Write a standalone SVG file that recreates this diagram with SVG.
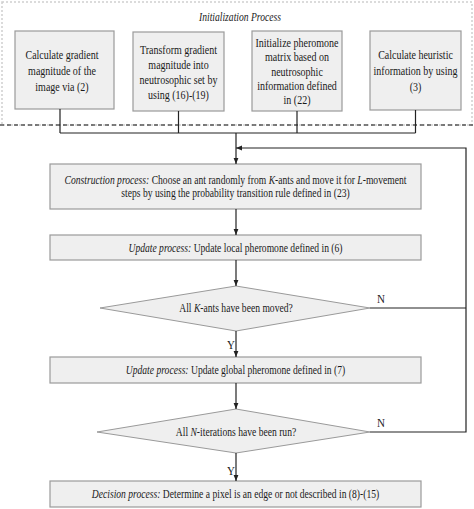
<svg xmlns="http://www.w3.org/2000/svg" width="474" height="509" viewBox="0 0 474 509" font-family="'Liberation Serif', 'DejaVu Serif', serif">
<style>
text{font-family:'Liberation Serif','DejaVu Serif',serif;font-size:13px;fill:#1a1a1a;text-anchor:middle}
.m{font-size:12px}
.it{font-style:italic}
.box{fill:#efefef;stroke:#9a9a9a;stroke-width:1.2}
.dia{fill:#efefef;stroke:#9a9a9a;stroke-width:1}
.ln{fill:none;stroke:#222;stroke-width:1.2}
.lbl{text-anchor:start}
</style>
<defs>
<marker id="ah" viewBox="0 0 10 10" refX="10" refY="5" markerWidth="5" markerHeight="5" orient="auto">
<path d="M0,1 L10,5 L0,9 z" fill="#222"/>
</marker>
</defs>
<rect x="2" y="2" width="470" height="123" fill="none" stroke="#cfcfcf" stroke-width="1.5" stroke-dasharray="2,2"/>
<line x1="0" y1="125" x2="474" y2="125" stroke="#555" stroke-width="1.5" stroke-dasharray="4,3"/>
<text class="it m" transform="translate(240,21) scale(0.8,1)">Initialization Process</text>

<g id="init1">
<rect class="box" x="15" y="31" width="99" height="78"/>
<g transform="translate(62,0)">
<text transform="translate(0,59) scale(0.77,1)">Calculate gradient</text>
<text transform="translate(0,75) scale(0.77,1)">magnitude of the</text>
<text transform="translate(0,91) scale(0.77,1)">image via (2)</text>
</g>
</g>
<g id="init2">
<rect class="box" x="133" y="32" width="91" height="79"/>
<g transform="translate(178.5,0)">
<text transform="translate(0,54) scale(0.77,1)">Transform gradient</text>
<text transform="translate(0,69) scale(0.77,1)">magnitude into</text>
<text transform="translate(0,84) scale(0.77,1)">neutrosophic set by</text>
<text transform="translate(0,99) scale(0.77,1)">using (16)-(19)</text>
</g>
</g>
<g id="init3">
<rect class="box" x="252" y="31" width="90" height="80"/>
<g transform="translate(297,0)">
<text transform="translate(0,47) scale(0.77,1)">Initialize pheromone</text>
<text transform="translate(0,61) scale(0.77,1)">matrix based on</text>
<text transform="translate(0,76) scale(0.77,1)">neutrosophic</text>
<text transform="translate(0,90) scale(0.77,1)">information defined</text>
<text transform="translate(0,104) scale(0.77,1)">in (22)</text>
</g>
</g>
<g id="init4">
<rect class="box" x="370" y="31" width="91" height="79"/>
<g transform="translate(415.5,0)">
<text transform="translate(0,59) scale(0.77,1)">Calculate heuristic</text>
<text transform="translate(0,75) scale(0.77,1)">information by using</text>
<text transform="translate(0,91) scale(0.77,1)">(3)</text>
</g>
</g>

<g id="construction">
<rect class="box" x="50" y="164" width="371" height="45"/>
<text class="m" transform="translate(235.5,184) scale(0.8,1)"><tspan class="it">Construction process:</tspan> Choose an ant randomly from <tspan class="it">K</tspan>-ants and move it for <tspan class="it">L</tspan>-movement</text>
<text class="m" transform="translate(235.5,197) scale(0.8,1)">steps by using the probability transition rule defined in (23)</text>
</g>
<g id="update-local">
<rect class="box" x="50" y="235" width="371" height="25"/>
<text class="m" transform="translate(235.5,252) scale(0.8,1)"><tspan class="it">Update process:</tspan> Update local pheromone defined in (6)</text>
</g>
<g id="decision-ants">
<polygon class="dia" points="100,308 236,286 370,308 236,331"/>
<text class="m" transform="translate(236,312) scale(0.8,1)">All <tspan class="it">K</tspan>-ants have been  moved?</text>
</g>
<g id="update-global">
<rect class="box" x="50" y="357" width="371" height="26"/>
<text class="m" transform="translate(235.5,374) scale(0.8,1)"><tspan class="it">Update process:</tspan> Update global pheromone defined in (7)</text>
</g>
<g id="decision-iter">
<polygon class="dia" points="97,432 236,409 370,432 236,453"/>
<text class="m" transform="translate(236,436) scale(0.8,1)">All <tspan class="it">N</tspan>-iterations have been  run?</text>
</g>
<g id="decision-process">
<rect class="box" x="50" y="481" width="371" height="26"/>
<text class="m" transform="translate(235.5,498) scale(0.8,1)"><tspan class="it">Decision process:</tspan> Determine a pixel is an edge or not described in (8)-(15)</text>
</g>

<g id="connectors">
<path class="ln" d="M60,109 V133 M178.5,111 V133 M297,111 V133 M415.5,110 V133 M60,133 H415.5"/>
<path class="ln" d="M236,133 V164" marker-end="url(#ah)"/>
<path class="ln" d="M236,209 V235" marker-end="url(#ah)"/>
<path class="ln" d="M236,260 V286" marker-end="url(#ah)"/>
<path class="ln" d="M236,331 V357" marker-end="url(#ah)"/>
<path class="ln" d="M236,383 V409" marker-end="url(#ah)"/>
<path class="ln" d="M236,453 V481" marker-end="url(#ah)"/>
<path class="ln" d="M370,308 H466"/>
<path class="ln" d="M370,432 H466 V148 H236" marker-end="url(#ah)"/>
<text class="lbl" transform="translate(377,303) scale(0.85,1)">N</text>
<text class="lbl" transform="translate(377,427) scale(0.85,1)">N</text>
<text class="lbl" transform="translate(227,349) scale(0.85,1)">Y</text>
<text class="lbl" transform="translate(227,475) scale(0.85,1)">Y</text>
</g>
</svg>
